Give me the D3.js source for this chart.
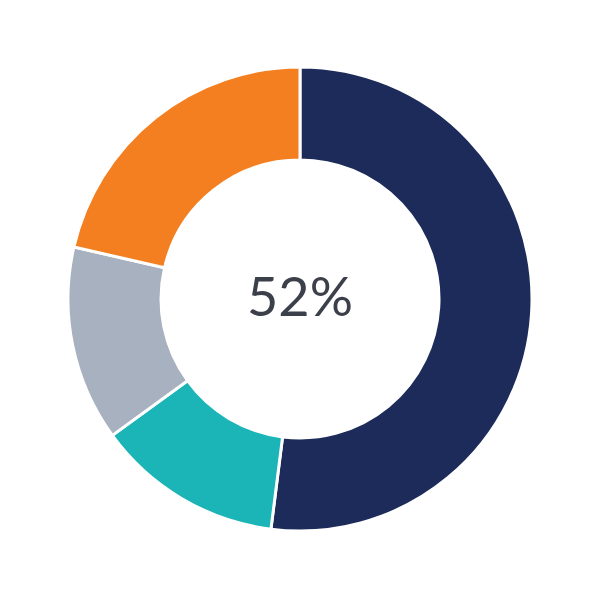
<!DOCTYPE html>
<html><head><meta charset="utf-8">
<script src="https://cdn.jsdelivr.net/npm/d3@7"></script>
<style>html,body{margin:0;padding:0;background:#fff;}</style>
</head><body>
<svg id="chart" width="600" height="600"></svg>
<script>
const categories = ["A", "B", "C", "D"];
const values = [52, 13, 13.6, 21.4];
const colors = ["#1c2b5a", "#1bb5b7", "#a7b1bf", "#f47f20"];
const centerLabel = "52%";

const svg = d3.select("#chart");
const g = svg.append("g").attr("transform", "translate(300,299)");
const pie = d3.pie().sort(null).value(d => d.v);
const arc = d3.arc().innerRadius(139).outerRadius(232);
const data = categories.map((c, i) => ({c, v: values[i], col: colors[i]}));
g.selectAll("path").data(pie(data)).join("path")
  .attr("d", arc)
  .attr("fill", d => d.data.col)
  .attr("stroke", "#fff")
  .attr("stroke-width", 3);
g.append("text").attr("text-anchor", "middle").attr("y", 17)
  .attr("font-family", "Lato, sans-serif").attr("font-weight", 400)
  .attr("font-size", 54).attr("fill", "#3b404b").text(centerLabel);
</script>
</body></html>
